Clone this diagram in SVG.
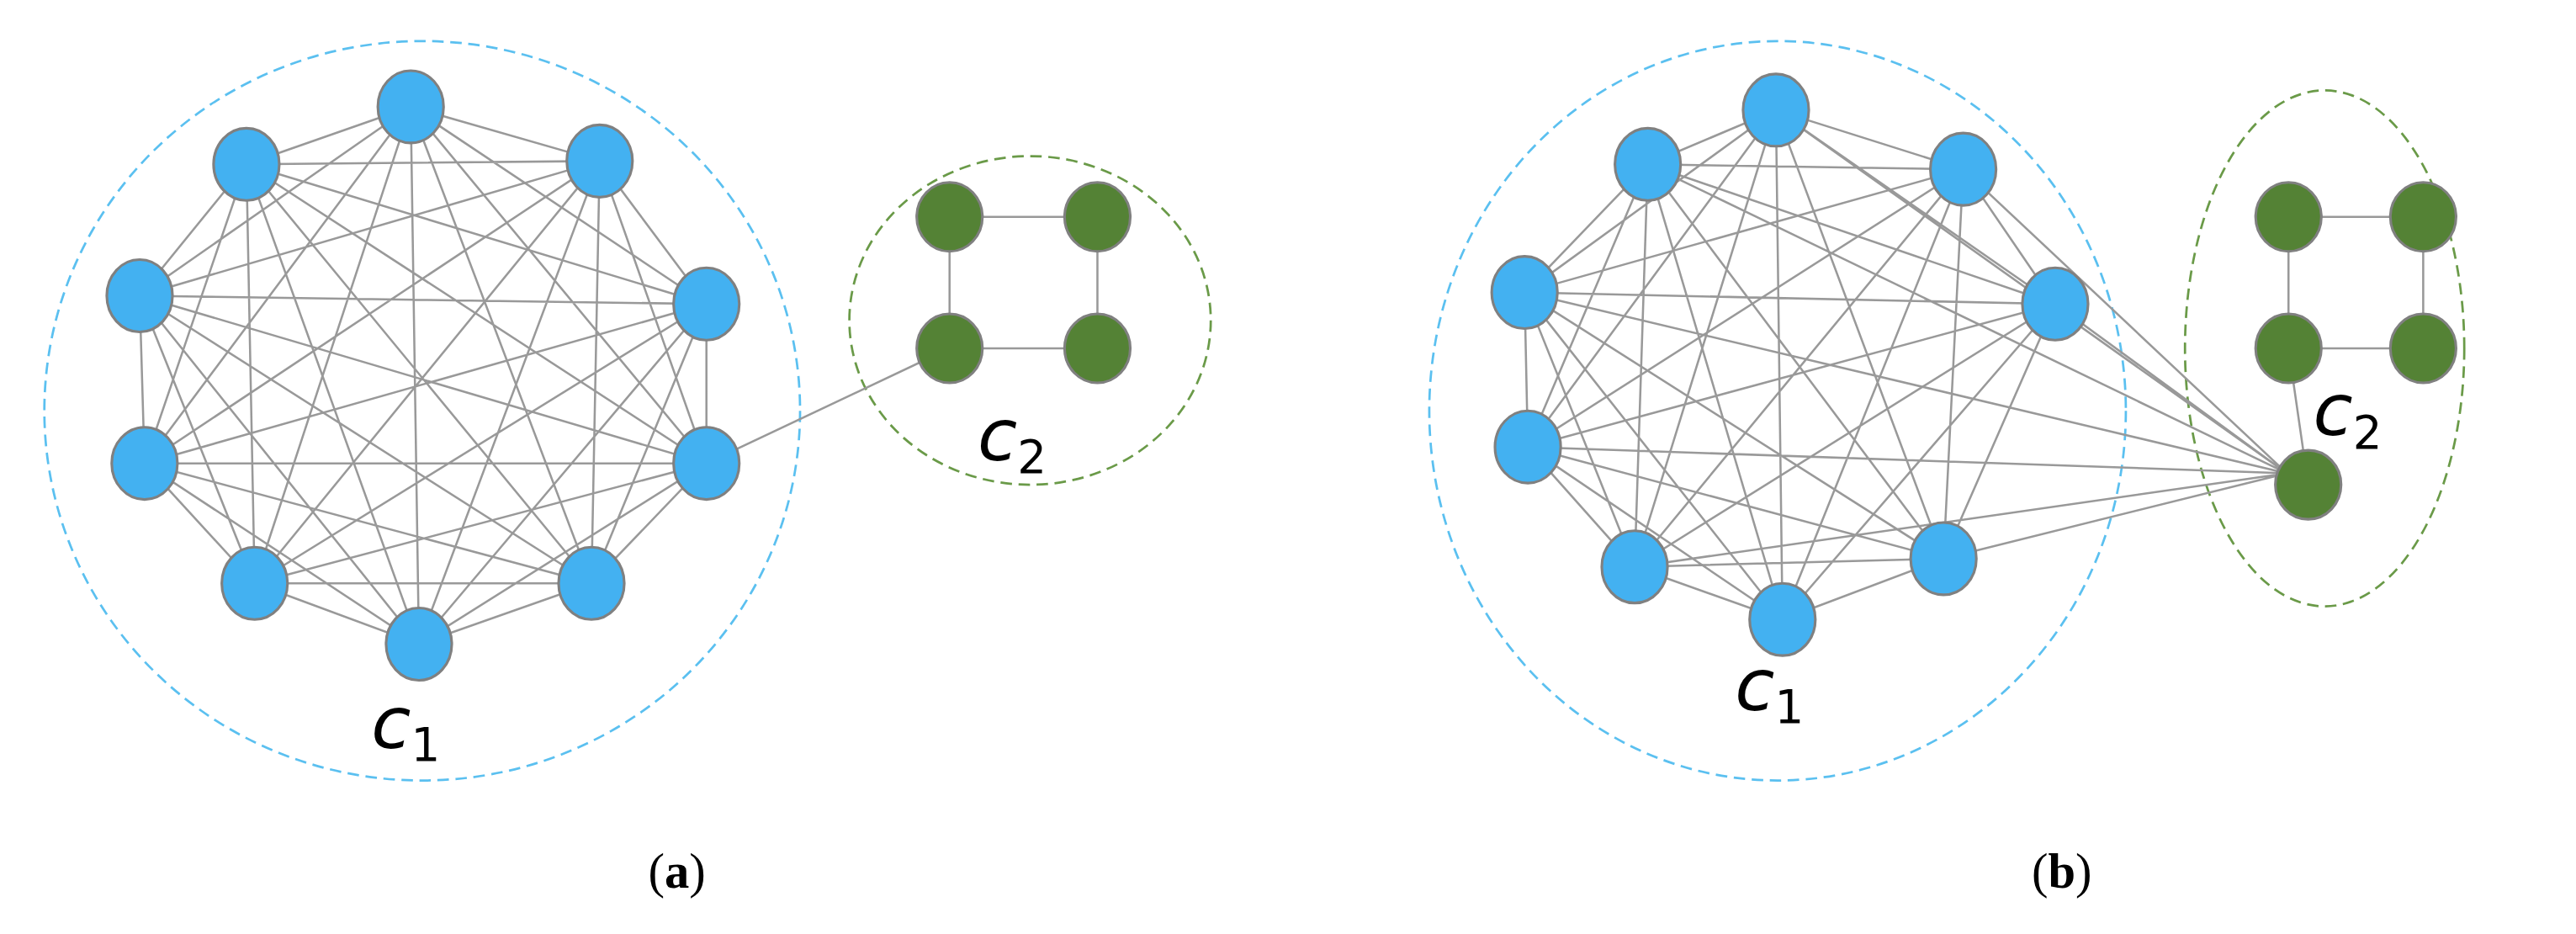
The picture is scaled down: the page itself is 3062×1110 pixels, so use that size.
<svg xmlns="http://www.w3.org/2000/svg" width="3062" height="1110" viewBox="0 0 3062 1110">
<style>
.e{fill:none;stroke:#999;stroke-width:1.3}
.b{fill:#43b1f1;stroke:#808080;stroke-width:1.6}
.g{fill:#548235;stroke:#808080;stroke-width:1.6}
.cb{fill:none;stroke:#5bc0f0;stroke-width:1.4;stroke-dasharray:7 4}
.cg{fill:none;stroke:#6a9a48;stroke-width:1.4;stroke-dasharray:7 4}
.lab{font-family:"DejaVu Sans","Liberation Sans",sans-serif;font-style:italic;font-size:44px;fill:#000}
.sub{font-family:"DejaVu Sans","Liberation Sans",sans-serif;font-size:28px;fill:#000}
.cap{font-family:"Liberation Serif",serif;font-size:30px;fill:#000}
</style>
<rect width="3062" height="1110" fill="#fff"/>
<g transform="scale(1.9528)">
<g id="clusters">
<ellipse class="cb" cx="257" cy="250" rx="230" ry="225"/>
<ellipse class="cg" cx="627" cy="195" rx="110" ry="100"/>
<ellipse class="cb" cx="1082" cy="250" rx="212" ry="225"/>
<ellipse class="cg" cx="1415" cy="212" rx="85" ry="157"/>
</g>
<g id="connectors">
<path class="e" d="M250 65L150 100M250 65L365 98M250 65L85 180M250 65L430 185M250 65L88 282M250 65L430 282M250 65L155 355M250 65L360 355M250 65L255 392M150 100L365 98M150 100L85 180M150 100L430 185M150 100L88 282M150 100L430 282M150 100L155 355M150 100L360 355M150 100L255 392M365 98L85 180M365 98L430 185M365 98L88 282M365 98L430 282M365 98L155 355M365 98L360 355M365 98L255 392M85 180L430 185M85 180L88 282M85 180L430 282M85 180L155 355M85 180L360 355M85 180L255 392M430 185L88 282M430 185L430 282M430 185L155 355M430 185L360 355M430 185L255 392M88 282L430 282M88 282L155 355M88 282L360 355M88 282L255 392M430 282L155 355M430 282L360 355M430 282L255 392M155 355L360 355M155 355L255 392M360 355L255 392M430 282L578 212M578 132L668 132L668 212L578 212Z"/>
<path class="e" d="M1081 67L1003 100M1081 67L1195 103M1081 67L928 178M1081 67L1251 185M1081 67L930 272M1081 67L995 345M1081 67L1183 340M1081 67L1085 377M1003 100L1195 103M1003 100L928 178M1003 100L1251 185M1003 100L930 272M1003 100L995 345M1003 100L1183 340M1003 100L1085 377M1195 103L928 178M1195 103L1251 185M1195 103L930 272M1195 103L995 345M1195 103L1183 340M1195 103L1085 377M928 178L1251 185M928 178L930 272M928 178L995 345M928 178L1183 340M928 178L1085 377M1251 185L930 272M1251 185L995 345M1251 185L1183 340M1251 185L1085 377M930 272L995 345M930 272L1183 340M930 272L1085 377M995 345L1183 340M995 345L1085 377M1183 340L1085 377M1392 288L1081 67M1392 288L1003 100M1392 288L1195 103M1392 288L928 178M1392 288L1251 185M1392 288L930 272M1392 288L995 345M1392 288L1183 340M1393 132L1475 132L1475 212L1393 212ZM1393 212L1405 295"/>
</g>
<g id="nodes-a">
<ellipse class="b" cx="250" cy="65" rx="20" ry="22"/>
<ellipse class="b" cx="150" cy="100" rx="20" ry="22"/>
<ellipse class="b" cx="365" cy="98" rx="20" ry="22"/>
<ellipse class="b" cx="85" cy="180" rx="20" ry="22"/>
<ellipse class="b" cx="430" cy="185" rx="20" ry="22"/>
<ellipse class="b" cx="88" cy="282" rx="20" ry="22"/>
<ellipse class="b" cx="430" cy="282" rx="20" ry="22"/>
<ellipse class="b" cx="155" cy="355" rx="20" ry="22"/>
<ellipse class="b" cx="360" cy="355" rx="20" ry="22"/>
<ellipse class="b" cx="255" cy="392" rx="20" ry="22"/>
<ellipse class="g" cx="578" cy="132" rx="20" ry="21"/>
<ellipse class="g" cx="668" cy="132" rx="20" ry="21"/>
<ellipse class="g" cx="578" cy="212" rx="20" ry="21"/>
<ellipse class="g" cx="668" cy="212" rx="20" ry="21"/>
</g>
<g id="nodes-b">
<ellipse class="b" cx="1081" cy="67" rx="20" ry="22"/>
<ellipse class="b" cx="1003" cy="100" rx="20" ry="22"/>
<ellipse class="b" cx="1195" cy="103" rx="20" ry="22"/>
<ellipse class="b" cx="928" cy="178" rx="20" ry="22"/>
<ellipse class="b" cx="1251" cy="185" rx="20" ry="22"/>
<ellipse class="b" cx="930" cy="272" rx="20" ry="22"/>
<ellipse class="b" cx="995" cy="345" rx="20" ry="22"/>
<ellipse class="b" cx="1183" cy="340" rx="20" ry="22"/>
<ellipse class="b" cx="1085" cy="377" rx="20" ry="22"/>
<ellipse class="g" cx="1393" cy="132" rx="20" ry="21"/>
<ellipse class="g" cx="1475" cy="132" rx="20" ry="21"/>
<ellipse class="g" cx="1393" cy="212" rx="20" ry="21"/>
<ellipse class="g" cx="1475" cy="212" rx="20" ry="21"/>
<ellipse class="g" cx="1405" cy="295" rx="20" ry="21"/>
</g>
<g id="labels">
<text class="lab" x="226" y="455">c<tspan class="sub" font-style="normal" dy="8">1</tspan></text>
<text class="lab" x="595" y="280">c<tspan class="sub" font-style="normal" dy="8">2</tspan></text>
<text class="lab" x="1056" y="432">c<tspan class="sub" font-style="normal" dy="8">1</tspan></text>
<text class="lab" x="1408" y="265">c<tspan class="sub" font-style="normal" dy="8">2</tspan></text>
<text class="cap" x="412" y="540" text-anchor="middle">(<tspan font-weight="bold">a</tspan>)</text>
<text class="cap" x="1255" y="540" text-anchor="middle">(<tspan font-weight="bold">b</tspan>)</text>
</g>
</g>
</svg>
